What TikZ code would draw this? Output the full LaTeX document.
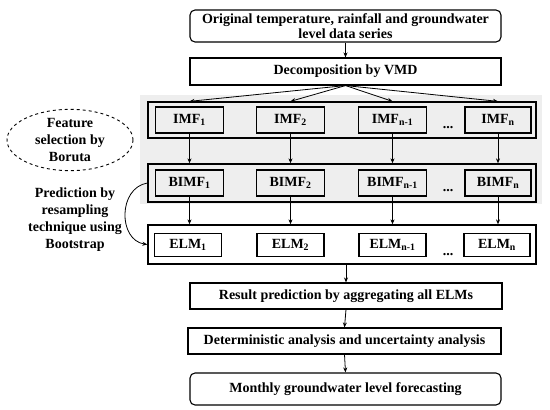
\documentclass[tikz,border=0pt]{standalone}
\usepackage{fontspec}
\setmainfont{Liberation Serif}
\usetikzlibrary{arrows.meta,shapes.geometric,calc}
\definecolor{bggray}{RGB}{238,238,238}
\begin{document}
\begin{tikzpicture}[x=1pt,y=-1pt,
  font=\fontsize{14}{17}\selectfont\bfseries,
  every node/.style={inner sep=0pt},
  mainbox/.style={draw, line width=1.1pt, minimum width=311pt, minimum height=26pt, align=center},
  cont/.style={draw, line width=1.3pt, minimum width=388pt},
  cell/.style={draw, line width=1.3pt, minimum width=68pt, minimum height=26pt},
  ecell/.style={draw, line width=1.3pt, minimum width=67pt, minimum height=23pt, fill=white},
  arr/.style={-{Stealth[length=5pt,width=4pt]}, line width=0.8pt},
  dotsl/.style={font=\fontsize{14}{17}\selectfont\bfseries}
]
\useasboundingbox (0,0) rectangle (550,410);
\fill[white] (0,0) rectangle (550,410);
% gray background
\fill[bggray] (140,95) rectangle (542,204);

% main column
\node[mainbox, rounded corners=5pt, minimum height=32pt] (top) at (345.5,26)
  {Original temperature, rainfall and groundwater\\[-2pt]level data series};
\node[mainbox, minimum height=27pt] (decomp) at (345.5,71.5) {Decomposition by VMD};

% containers
\node[cont, minimum height=36pt, fill=bggray] (imfc) at (342,120) {};
\node[cont, minimum height=38pt, fill=bggray] (bimfc) at (342,183) {};
\node[cont, minimum height=39pt, fill=white] (elmc) at (342,244.5) {};

% IMF row
\node[cell, fill=bggray] (imf1) at (189.5,120) {IMF\textsubscript{1}};
\node[cell, fill=bggray] (imf2) at (290.5,120) {IMF\textsubscript{2}};
\node[cell, fill=bggray] (imf3) at (392.5,120) {IMF\textsubscript{n-1}};
\node[cell, fill=bggray, minimum width=66pt] (imf4) at (498,120) {IMF\textsubscript{n}};
\node[dotsl] (d1) at (448,128) {...};

% BIMF row
\node[cell, fill=bggray] (bimf1) at (189.5,183) {BIMF\textsubscript{1}};
\node[cell, fill=bggray] (bimf2) at (290.5,183) {BIMF\textsubscript{2}};
\node[cell, fill=bggray] (bimf3) at (392.5,183) {BIMF\textsubscript{n-1}};
\node[cell, fill=bggray, minimum width=66pt] (bimf4) at (498,183) {BIMF\textsubscript{n}};
\node[dotsl] (d2) at (448,191) {...};

% ELM row
\node[ecell] (elm1) at (188,245) {ELM\textsubscript{1}};
\node[ecell] (elm2) at (290.5,245) {ELM\textsubscript{2}};
\node[ecell] (elm3) at (392.5,245) {ELM\textsubscript{n-1}};
\node[ecell, minimum width=66pt] (elm4) at (497,245) {ELM\textsubscript{n}};
\node[dotsl] (d3) at (448,255) {...};

% lower column
\node[mainbox, minimum width=312pt] (result) at (346,296) {Result prediction by aggregating all ELMs};
\node[mainbox, minimum width=313pt] (determ) at (344.5,341) {Deterministic analysis and uncertainty analysis};
\node[mainbox, rounded corners=5pt, minimum height=32pt] (month) at (345.5,389) {Monthly groundwater level forecasting};

% side annotations
\node[draw, dashed, line width=0.9pt, ellipse, minimum width=126pt, minimum height=60pt, align=center] (feat) at (70,140)
  {Feature\\selection by\\Boruta};
\node[align=center] (pred) at (75,220) {Prediction by\\resampling\\technique using\\Bootstrap};

% arrows
\draw[arr] (top.south) -- (decomp.north);
\foreach \i in {1,2,3,4} {
  \draw[arr] (decomp.south) -- (imf\i.north |- imfc.north);
  \draw[arr] (imf\i.south) -- (imf\i.south |- bimfc.north);
  \draw[arr] (bimf\i.south) -- (bimf\i.south |- elmc.north);
}
\draw[arr] (result.north |- elmc.south) -- (result.north);
\draw[arr] (result.south) -- (determ.north);
\draw[arr] (determ.south) -- (month.north);
\draw[arr] (bimfc.west) .. controls (118,188) and (118,240) .. (elmc.west);
\end{tikzpicture}
\end{document}
